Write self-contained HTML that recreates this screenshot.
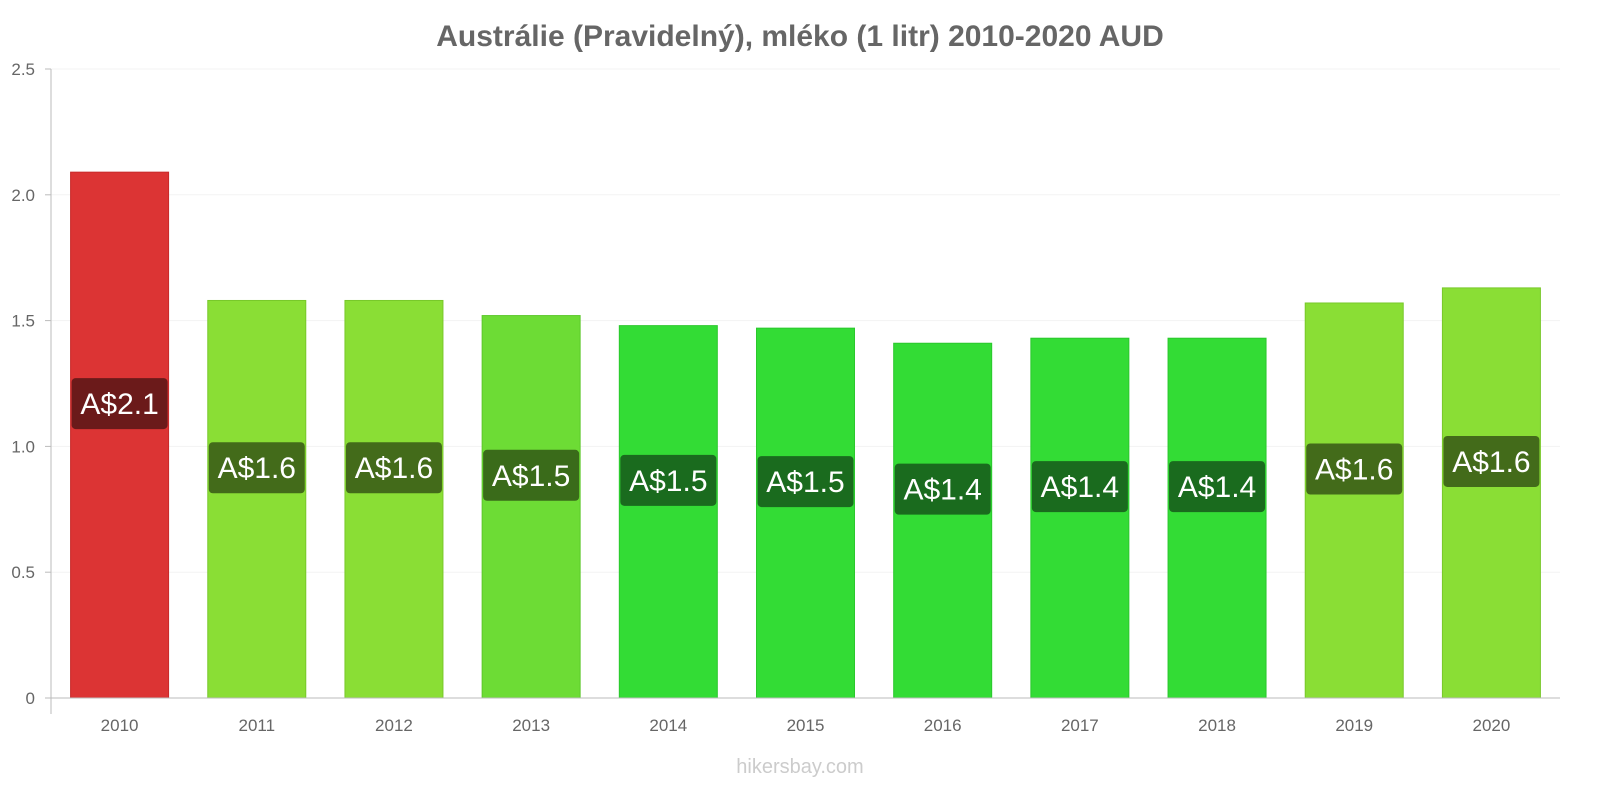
<!DOCTYPE html>
<html><head><meta charset="utf-8"><style>
body{margin:0;background:#fff;}
svg text{font-family:"Liberation Sans",sans-serif;}
</style></head><body>
<svg id="chart" width="1600" height="800" xmlns="http://www.w3.org/2000/svg">
<text x="800" y="46" text-anchor="middle" font-size="30" font-weight="bold" fill="#666">Austrálie (Pravidelný), mléko (1 litr) 2010-2020 AUD</text>
<text x="800" y="773" text-anchor="middle" font-size="20" fill="#ccc">hikersbay.com</text>
<g id="grid"></g><g id="bars"></g><g id="axes"></g>
</svg>
<script>
const categories=["2010","2011","2012","2013","2014","2015","2016","2017","2018","2019","2020"];
const values=[2.09,1.58,1.58,1.52,1.48,1.47,1.41,1.43,1.43,1.57,1.63];
const valueLabels=["A$2.1","A$1.6","A$1.6","A$1.5","A$1.5","A$1.5","A$1.4","A$1.4","A$1.4","A$1.6","A$1.6"];
const yTicks=[0,0.5,1.0,1.5,2.0,2.5];
const yTickLabels=["0","0.5","1.0","1.5","2.0","2.5"];
const NS="http://www.w3.org/2000/svg";
const x0=51,x1=1560,yBase=698,yTop=69,yMax=2.5;
const band=(x1-x0)/categories.length;
const y=v=>yBase-(v/yMax)*(yBase-yTop);
const xc=i=>x0+band*(i+0.5);
function mk(tag,attrs,parent){const e=document.createElementNS(NS,tag);for(const k in attrs)e.setAttribute(k,attrs[k]);parent.appendChild(e);return e;}
const grid=document.getElementById('grid'),bars=document.getElementById('bars'),axes=document.getElementById('axes');
yTicks.forEach((t,i)=>{
  if(t>0){const g=mk('line',{x1:x0,x2:x1,y1:y(t),y2:y(t),stroke:'#f3f3f3'},grid);
  
  }
  const tk=mk('line',{x1:x0-6,x2:x0,y1:y(t),y2:y(t),stroke:'#bbb'},axes);
  
  
  const tx=mk('text',{x:x0-16,y:y(t)+6,'text-anchor':'end','font-size':17,fill:'#666'},axes);
  tx.textContent=yTickLabels[i];
  
  
});
function colors(v){
  if(v>=1.8)return['#dc3434','#6b1a1a','#c82a2a'];
  if(v>=1.55)return['#8ade35','#436b1a','#78c82a'];
  if(v>=1.5)return['#6ddc35','#3a6b1a','#5cc82a'];
  return['#33dc35','#1a6b1e','#2ac82c'];
}
values.forEach((v,i)=>{
  const c=colors(v),bw=98;
  const r=mk('rect',{x:xc(i)-bw/2,y:y(v),width:bw,height:yBase-y(v),fill:c[0],stroke:c[2],'stroke-width':1},bars);
  
  
  const cy=(y(v)+yBase)/2-32;
  const lb=mk('rect',{x:xc(i)-48,y:cy-25,width:96,height:51,rx:4,fill:c[1]},bars);
  
  
  const t=mk('text',{x:xc(i),y:cy+11,'text-anchor':'middle','font-size':30,fill:'#fff'},bars);
  t.textContent=valueLabels[i];
  
  
  const xl=mk('text',{x:xc(i),y:731,'text-anchor':'middle','font-size':17,fill:'#666'},axes);
  xl.textContent=categories[i];
  
  
});
const ya=mk('line',{x1:x0,x2:x0,y1:yTop,y2:714,stroke:'#bbb'},axes);


const xa=mk('line',{x1:x0-6,x2:x1,y1:yBase,y2:yBase,stroke:'#bbb'},axes);


</script>
</body></html>
